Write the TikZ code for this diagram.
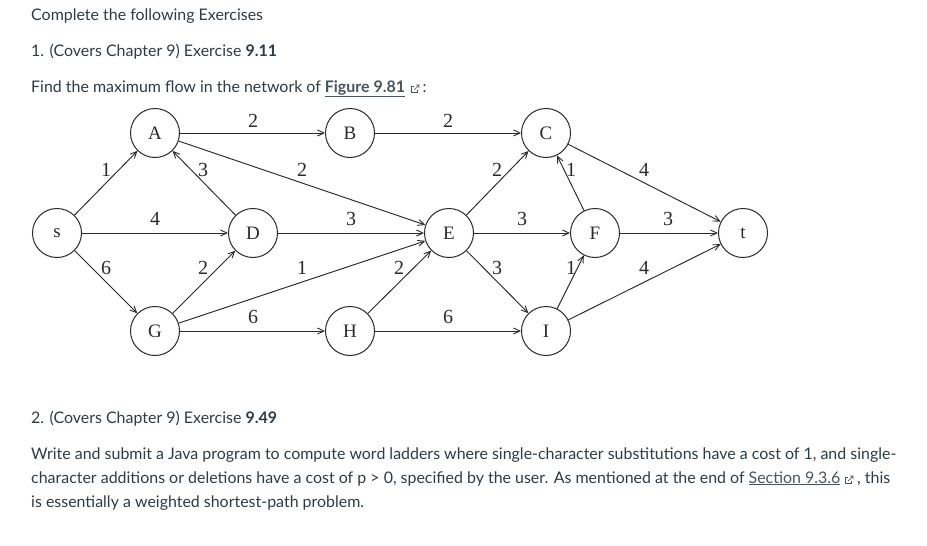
\documentclass[tikz,border=0pt]{standalone}
\usepackage{fontspec}
\setmainfont{Lato}
\newfontfamily\figfont{Liberation Serif}
\usetikzlibrary{arrows.meta}
\definecolor{txt}{HTML}{2D3B45}
\definecolor{lnk}{HTML}{4A545C}
\definecolor{ln}{HTML}{2A2A2A}
\newcommand{\extlink}[2]{%
  \draw[lnk,line width=0.6pt] (#1+2.5,#2) -- (#1,#2) -- (#1,#2+6.5) -- (#1+6,#2+6.5) -- (#1+6,#2+4);
  \draw[lnk,line width=0.7pt] (#1+2.5,#2+4) -- (#1+7.5,#2-1) (#1+4.5,#2-1) -- (#1+7.5,#2-1) -- (#1+7.5,#2+2);
}
\tikzset{
  x=1pt,y=-1pt,
  para/.style={anchor=base west,inner sep=0pt,text=txt,font=\fontsize{15.95}{18}\selectfont},
  vert/.style={circle,draw=ln,line width=1pt,minimum size=49pt,inner sep=0pt,text=ln,font=\figfont\fontsize{19}{20}\selectfont},
  flow/.style={draw=ln,line width=0.95pt,-{Straight Barb[length=6.5pt,width=6pt,line width=0.9pt]}},
  lbl/.style={inner sep=0pt,text=ln,font=\figfont\fontsize{20}{20}\selectfont},
}
\begin{document}
\begin{tikzpicture}
\useasboundingbox[fill=white] (0,0) rectangle (927,546);
\node[para] (t1) at (31,20) {Complete the following Exercises};
\node[para] (t2) at (31,56) {1. (Covers Chapter 9) Exercise \textbf{9.11}};
\node[para] (t3) at (31,92) {Find the maximum flow in the network of \textcolor{lnk}{\underline{\textbf{Figure 9.81}}}};
\extlink{411.5}{86}
\node[para] (t3b) at (422.5,92) {:};
\node[para] (t4) at (31,423) {2. (Covers Chapter 9) Exercise \textbf{9.49}};
\node[para] (t5) at (31,459) {Write and submit a Java program to compute word ladders where single-character substitutions have a cost of 1, and single-};
\node[para] (t6) at (31,483) {character additions or deletions have a cost of p > 0, specified by the user. As mentioned at the end of \textcolor{lnk}{\underline{Section 9.3.6}}};
\extlink{845.5}{477}
\node[para] (t6b) at (857,483) {, this};
\node[para] (t7) at (31,507) {is essentially a weighted shortest-path problem.};

\node[vert] (s) at (57,233) {s};
\node[vert] (A) at (155,133) {A};
\node[vert] (B) at (350,133) {B};
\node[vert] (C) at (546,133) {C};
\node[vert] (D) at (253,233) {D};
\node[vert] (E) at (449,233) {E};
\node[vert] (F) at (595,233) {F};
\node[vert] (G) at (155,331) {G};
\node[vert] (H) at (350,331) {H};
\node[vert] (I) at (546,331) {I};
\node[vert] (t) at (743,233) {t};

\foreach \a/\b in {s/A,s/D,s/G,A/B,B/C,A/E,D/A,D/E,G/D,G/E,G/H,H/E,H/I,E/C,E/F,E/I,F/C,F/t,I/F,C/t,I/t}
  \draw[flow] (\a) -- (\b);

\node[lbl] (l1) at (106,170) {1};
\node[lbl] (l2) at (155,219) {4};
\node[lbl] (l3) at (106,268) {6};
\node[lbl] (l4) at (253,121) {2};
\node[lbl] (l5) at (203,170) {3};
\node[lbl] (l6) at (302,170) {2};
\node[lbl] (l7) at (203,268) {2};
\node[lbl] (l8) at (302,268) {1};
\node[lbl] (l9) at (351,219) {3};
\node[lbl] (l10) at (253,317) {6};
\node[lbl] (l11) at (448,121) {2};
\node[lbl] (l12) at (399,268) {2};
\node[lbl] (l13) at (448,317) {6};
\node[lbl] (l14) at (497,170) {2};
\node[lbl] (l15) at (522,219) {3};
\node[lbl] (l16) at (497,268) {3};
\node[lbl] (l17) at (571,170) {1};
\node[lbl] (l18) at (571,268) {1};
\node[lbl] (l19) at (644,170) {4};
\node[lbl] (l20) at (668,219) {3};
\node[lbl] (l21) at (644,268) {4};
\end{tikzpicture}
\end{document}
